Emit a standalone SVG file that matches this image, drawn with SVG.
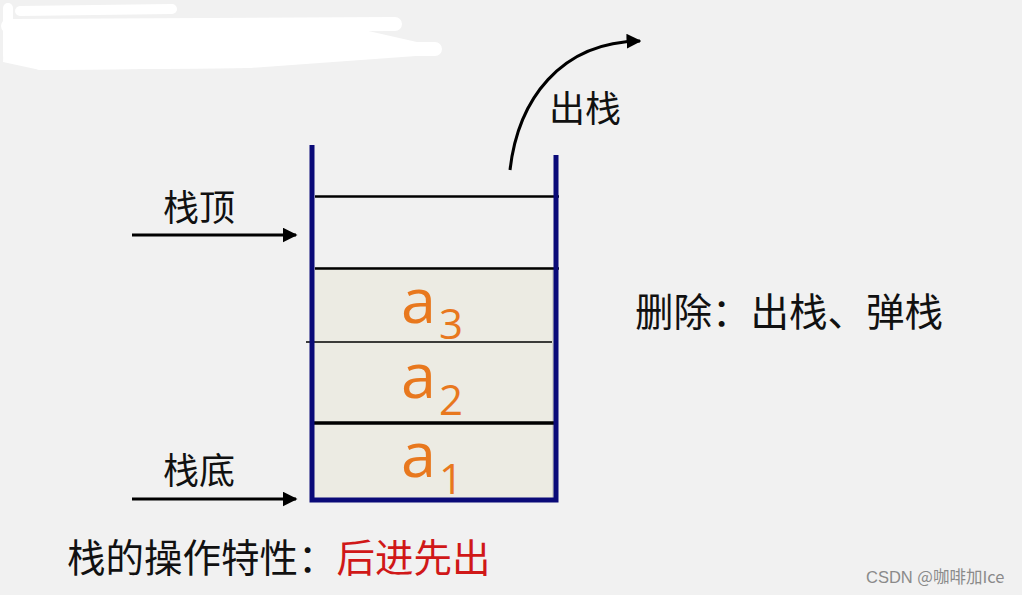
<svg xmlns="http://www.w3.org/2000/svg" width="1022" height="595" viewBox="0 0 1022 595">
  <defs>
    <marker id="ah" viewBox="0 0 10 10" refX="9" refY="5" markerWidth="5" markerHeight="5" markerUnits="strokeWidth" orient="auto">
      <path d="M0,0 L10,5 L0,10 z" fill="#000"/>
    </marker>
    <style>
      .cjk { font-family: "Noto Sans CJK SC", "Noto Sans", sans-serif; fill: #111; }
      .wall { stroke: #0a0a78; stroke-width: 5; fill: none; }
      .elem { font-family: "Open Sans", "Liberation Sans", sans-serif; fill: #e8781e; font-size: 63px; }
      .sub { font-size: 42px; }
      .conn { stroke: #000; fill: none; }
      .smudge { stroke: #fff; stroke-linecap: round; fill: none; }
    </style>
  </defs>
  <rect width="1022" height="595" fill="#f1f1f1"/>

  <!-- erased text smudge -->
  <g id="smudge">
    <path class="smudge" stroke-width="10" d="M8,8 L8,55"/>
    <path class="smudge" stroke-width="10" d="M20,11 L172,9"/>
    <path class="smudge" stroke-width="14" d="M8,26 L395,24"/>
    <path class="smudge" stroke-width="14" d="M10,38 L340,34"/>
    <path class="smudge" stroke-width="14" d="M10,50 L435,49"/>
    <path class="smudge" stroke-width="12" d="M40,64 L250,62"/>
    <path d="M5,20 L320,20 L430,45 L430,55 L250,68 L40,70 L3,62 z" fill="#fff"/>
  </g>

  <!-- stack -->
  <g id="stack">
    <rect x="313" y="268" width="240" height="231" fill="#ecebe3" stroke="#b8b8b0" stroke-width="1"/>
    <line x1="315" y1="196.5" x2="559" y2="196.5" stroke="#000" stroke-width="2.5"/>
    <line x1="315" y1="268.5" x2="559" y2="268.5" stroke="#000" stroke-width="2.5"/>
    <line x1="306" y1="342" x2="552" y2="342" stroke="#000" stroke-width="1.5"/>
    <line x1="313" y1="423" x2="557" y2="423" stroke="#000" stroke-width="3.5"/>
    <path class="wall" d="M312,145 L312,500 L556,500 L556,155"/>
  </g>

  <g id="a3">
    <text class="elem" x="401" y="323">a<tspan class="sub" x="439" dy="16">3</tspan></text>
  </g>
  <g id="a2">
    <text class="elem" x="401" y="398">a<tspan class="sub" x="439" dy="17">2</tspan></text>
  </g>
  <g id="a1">
    <text class="elem" x="401" y="477">a<tspan class="sub" x="439" dy="17">1</tspan></text>
  </g>

  <g id="label-top">
    <text class="cjk" x="163" y="221" font-size="36">栈顶</text>
  </g>
  <g id="label-bottom">
    <text class="cjk" x="163" y="484" font-size="36">栈底</text>
  </g>
  <g id="label-pop">
    <text class="cjk" x="549" y="122" font-size="36">出栈</text>
  </g>
  <g id="label-delete">
    <text class="cjk" x="635" y="326" font-size="38.5">删除：出栈、弹栈</text>
  </g>
  <g id="label-feature">
    <text class="cjk" x="67" y="572" font-size="38.5">栈的操作特性：<tspan fill="#d01818">后进先出</tspan></text>
  </g>

  <g id="connectors">
    <line class="conn" x1="132" y1="235" x2="296" y2="235" stroke-width="3" marker-end="url(#ah)"/>
    <line class="conn" x1="132" y1="499" x2="296" y2="499" stroke-width="3" marker-end="url(#ah)"/>
    <path class="conn" d="M510,170 C518,100 560,42 640,41" stroke-width="3" marker-end="url(#ah)"/>
  </g>

  <text x="866" y="583" font-family="Liberation Sans, sans-serif" font-size="16.5" fill="#8a8a8a">CSDN <tspan font-family="Noto Sans CJK SC, sans-serif">@咖啡加Ice</tspan></text>
</svg>
